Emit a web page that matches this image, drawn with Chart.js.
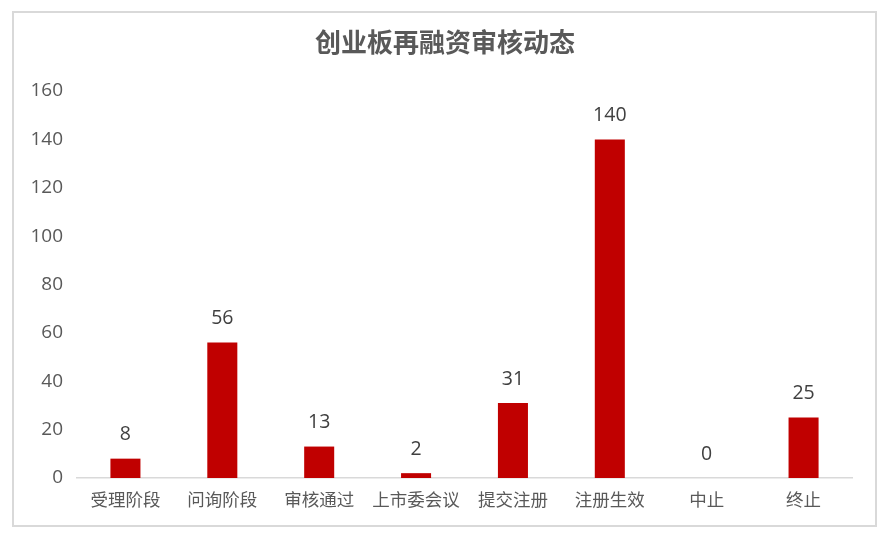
<!DOCTYPE html>
<html>
<head>
<meta charset="utf-8">
<script src="https://cdn.jsdelivr.net/npm/chart.js@4/dist/chart.umd.min.js"></script>
<style>
  html, body { margin: 0; padding: 0; background: #fff; }
  #wrap { width: 884px; height: 538px; }
</style>
</head>
<body>
<div id="wrap"><canvas id="myChart" width="884" height="538"></canvas></div>
<script>
// chart data
const categories = ['受理阶段', '问询阶段', '审核通过', '上市委会议', '提交注册', '注册生效', '中止', '终止'];
const counts = [8, 56, 13, 2, 31, 140, 0, 25];
const yTicks = [0, 20, 40, 60, 80, 100, 120, 140, 160];
const chartTitle = '创业板再融资审核动态';

const fontFamily = "'Open Sans', 'Noto Sans CJK SC', sans-serif";

// frame around the whole chart + title (title sits a bit right of the plot centre)
const framePlugin = {
  id: 'frame',
  beforeDraw(chart) {
    const c = chart.ctx;
    c.save();
    c.fillStyle = '#fff';
    c.fillRect(0, 0, chart.width, chart.height);
    c.strokeStyle = '#d9d9d9';
    c.lineWidth = 2;
    c.strokeRect(13, 12, 863, 514);
    c.font = 'bold 26px ' + fontFamily;
    c.fillStyle = '#595959';
    c.textAlign = 'center';
    c.textBaseline = 'middle';
    c.fillText(chartTitle, 445, 45);
    c.restore();
  }
};

// value labels above the bars
const valueLabels = {
  id: 'valueLabels',
  afterDatasetsDraw(chart) {
    const c = chart.ctx;
    const meta = chart.getDatasetMeta(0);
    c.save();
    c.font = '19.5px ' + fontFamily;
    c.fillStyle = '#404040';
    c.textAlign = 'center';
    c.textBaseline = 'middle';
    meta.data.forEach((bar, i) => {
      c.fillText(counts[i], bar.x, bar.y - 24);
    });
    c.restore();
  }
};

const ctx = document.getElementById('myChart');

new Chart(ctx, {
  type: 'bar',
  data: {
    labels: categories,
    datasets: [{
      label: '数量',
      data: counts,
      backgroundColor: '#c00000',
      borderWidth: 0,
      categoryPercentage: 1,
      barPercentage: 0.31
    }]
  },
  options: {
    responsive: false,
    animation: false,
    layout: {
      padding: { left: 20, right: 32, top: 91, bottom: 13 }
    },
    scales: {
      y: {
        min: 0,
        max: yTicks[yTicks.length - 1],
        afterBuildTicks: (axis) => { axis.ticks = yTicks.map(v => ({ value: v })); },
        afterFit: (axis) => { axis.width = 57; },
        grid: { display: false, drawTicks: false },
        border: { display: false },
        ticks: {
          padding: 14,
          color: '#595959',
          font: { size: 19, family: fontFamily }
        }
      },
      x: {
        grid: { display: false, drawTicks: false },
        border: { display: true, color: '#d9d9d9', width: 1.5 },
        ticks: {
          padding: 13,
          color: '#595959',
          maxRotation: 0,
          autoSkip: false,
          font: { size: 17.5, family: fontFamily }
        }
      }
    },
    plugins: {
      legend: { display: false },
      tooltip: { enabled: false },
      title: { display: false }
    }
  },
  plugins: [framePlugin, valueLabels]
});
</script>
</body>
</html>
